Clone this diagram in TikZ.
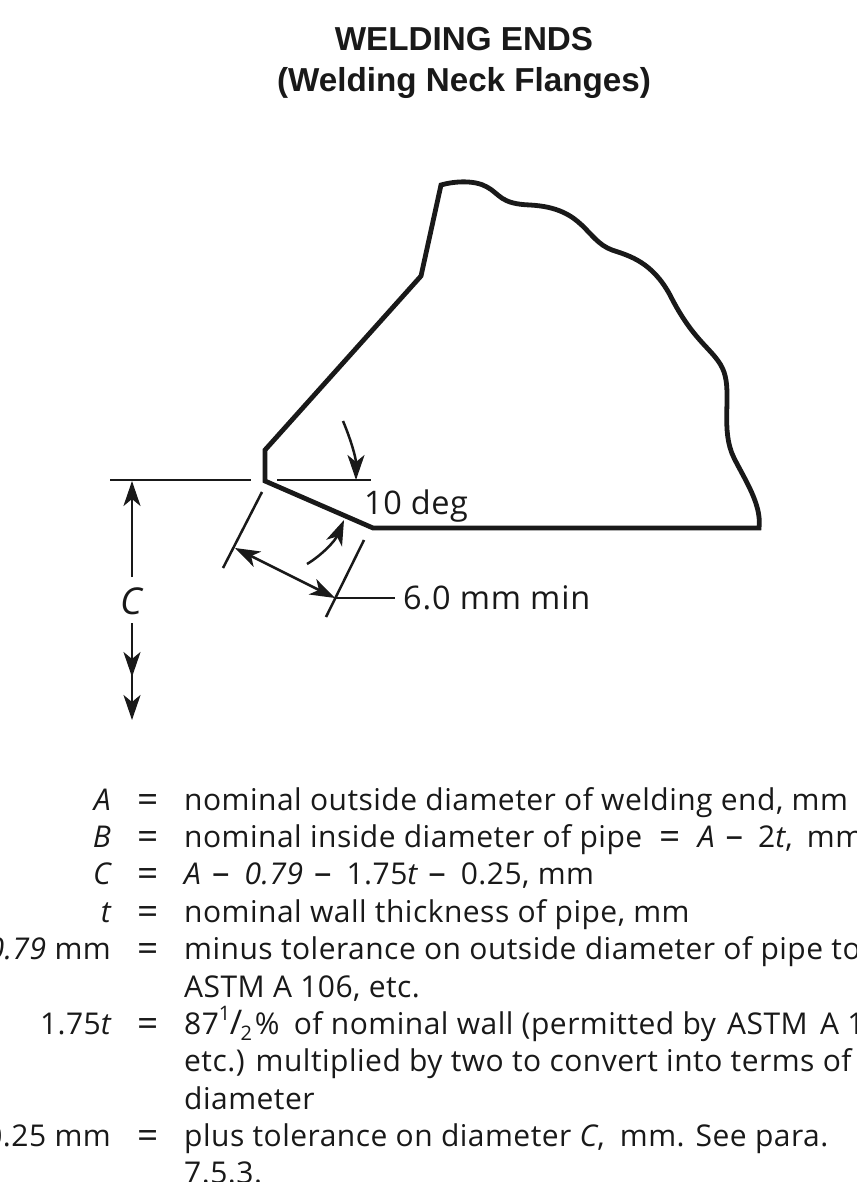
\documentclass[tikz,border=0pt]{standalone}
\usepackage{fontspec}
\setmainfont{Open Sans}[LetterSpace=1.6]
\newfontfamily\titlefont{Liberation Sans}
\usetikzlibrary{arrows.meta}
\newcommand{\halfsym}{\raisebox{0.44em}{\fontsize{20}{20}\selectfont 1}\kern-0.02em{\fontsize{34}{34}\selectfont /}\kern-0.06em\raisebox{-0.22em}{\fontsize{20}{20}\selectfont 2}\kern0.1em}
\newcommand{\bigeq}{\kern0.3em\raisebox{-2.5pt}{\fontsize{37}{37}\selectfont =}\kern0.3em}
\newcommand{\wminus}{\kern11pt{\fontsize{35}{35}\selectfont –}\kern15pt}
\tikzset{
  x=1pt,y=-1pt,
  outline/.style={line width=4.8pt,line join=miter,draw=black!90},
  dim/.style={line width=2.5pt,draw=black!90},
  tipped/.style={-{Stealth[length=25pt,width=17pt,inset=7pt]}},
  both/.style={{Stealth[length=25pt,width=17pt,inset=7pt]}-{Stealth[length=25pt,width=17pt,inset=7pt]}},
  ttl/.style={inner sep=0pt,anchor=base,font=\titlefont\bfseries\fontsize{33.2}{33.2}\selectfont,text=black!90},
  lab/.style={inner sep=0pt,anchor=base west,font=\fontsize{32.5}{32.5}\selectfont\addfontfeatures{LetterSpace=2.4},text=black!90},
  body/.style={inner sep=0pt,anchor=base west,font=\fontsize{30}{30}\selectfont,text=black!90},
  sym/.style={inner sep=0pt,anchor=base east,font=\fontsize{30}{30}\selectfont,text=black!90},
  eq/.style={inner sep=0pt,anchor=base,font=\fontsize{37}{37}\selectfont,text=black!90},
}
\begin{document}
\begin{tikzpicture}
\useasboundingbox (0,0) rectangle (856,1182);
\clip (0,0) rectangle (856,1182);
\fill[white] (0,0) rectangle (856,1182);
\node[ttl] (t1) at (464,51) {WELDING ENDS};
\node[ttl] (t2) at (464,92) {(Welding Neck Flanges)};
% flange outline
\draw[outline] (441,185) -- (421,276) -- (265,450) -- (265,481) -- (373,528) -- (759,528)
  .. controls (762,505) and (745,480) .. (734,458)
  .. controls (720,430) and (732,395) .. (724,372)
  .. controls (716,350) and (695,345) .. (670,295)
  .. controls (652,262) and (630,256) .. (612,250)
  .. controls (585,240) and (585,208) .. (530,205)
  .. controls (500,204) and (500,194) .. (487,187)
  .. controls (475,180) and (455,181) .. (441,185) -- cycle;
% dimension lines
\coordinate (L1) at (110,480); \coordinate (L2) at (251,480);
\coordinate (R1) at (277,480); \coordinate (R2) at (371,480);
\draw[dim] (L1) -- (L2);
\draw[dim] (R1) -- (R2);
\draw[dim] (262,492) -- (223,568);
\draw[dim] (364,540) -- (326,617);
\draw[dim,both] (235,548) -- (335,598);
\draw[dim] (335,598) -- (395,598);
\draw[dim,tipped] (132,577) -- (132,481);
\draw[dim,tipped] (132,623) -- (132,677);
\draw[dim,tipped] (132,660) -- (132,720);
\draw[dim,tipped] (343,421) .. controls (351,440) and (356,458) .. (356,480);
\draw[dim,tipped] (307,564) .. controls (322,555) and (335,541) .. (344,520);
% labels
\node[lab,font=\fontsize{32.5}{32.5}\selectfont] (deg) at (364,514) {10 deg};
\node[lab] (min) at (403,609) {6.0 mm min};
\node[lab,font=\fontsize{37}{37}\selectfont] (c) at (120,614) {\itshape C};
% legend
\foreach \nm/\y/\s/\t in {
 a/810/{\itshape A}/{nominal outside diameter of welding end, mm},
 b/847/{\itshape B}/{nominal inside diameter of pipe \bigeq{} {\itshape A}\wminus{}2{\itshape t},\kern6pt{} mm},
 cc/884/{\itshape C}/{{\itshape A}\wminus{}{\itshape 0.79}\wminus{}1.75{\itshape t}\wminus{}0.25, mm},
 d/922/{\itshape t}/{nominal wall thickness of pipe, mm},
 e/959/{{\itshape 0.79} mm}/{minus tolerance on outside diameter of pipe to},
 f/1034/{1.75{\itshape t}}/{87\halfsym\%\kern6pt{} of nominal wall (permitted by\kern3pt{} ASTM\kern4pt{} A 106,},
 g/1146/{0.25 mm}/{plus tolerance on diameter {\itshape C},\kern7pt{} mm. See para.}}
{
  \node[sym] (s\nm) at (111,\y) {\s};
  \node[eq] (q\nm) at (148,\y+2.5) {=};
  \node[body] (x\nm) at (184,\y) {\t};
}
\node[body] (h) at (184,997) {ASTM A 106, etc.};
\node[body] (i) at (184,1071) {etc.) multiplied by two to convert into terms of};
\node[body] (j) at (184,1109) {diameter};
\node[body] (k) at (184,1183) {7.5.3.};
\end{tikzpicture}
\end{document}
